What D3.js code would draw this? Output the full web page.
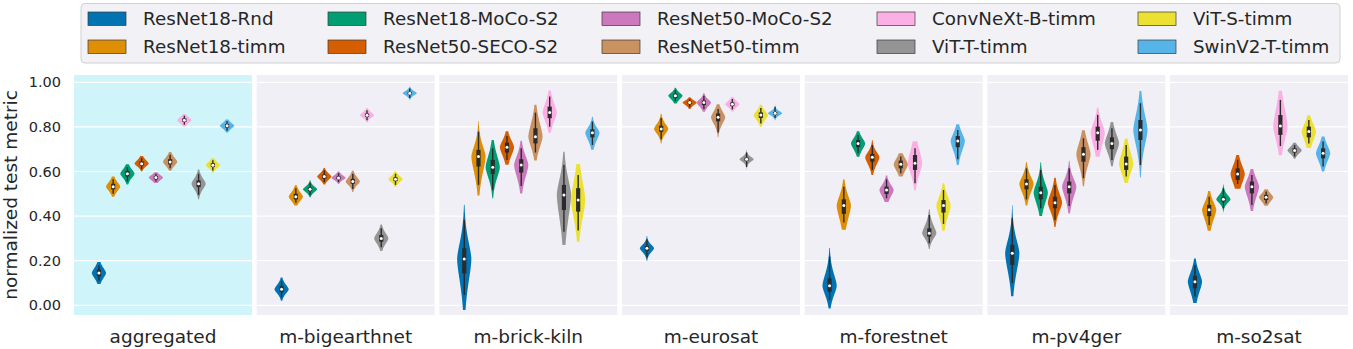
<!DOCTYPE html>
<html><head><meta charset="utf-8">
<script src="https://cdn.jsdelivr.net/npm/d3@7"></script>
<style>body{margin:0;background:#fff;} text{font-family:"DejaVu Sans",sans-serif;fill:#262626;}</style>
</head><body><svg id="c" width="1353" height="349"></svg>
<script>
const datasets = ["aggregated","m-bigearthnet","m-brick-kiln","m-eurosat","m-forestnet","m-pv4ger","m-so2sat"];
const models = ["ResNet18-Rnd","ResNet18-timm","ResNet18-MoCo-S2","ResNet50-SECO-S2","ResNet50-MoCo-S2","ResNet50-timm","ConvNeXt-B-timm","ViT-T-timm","ViT-S-timm","SwinV2-T-timm"];
const colors = ["#0173b2","#de8f05","#029e73","#d55e00","#cc78bc","#ca9161","#fbafe4","#949494","#ece133","#56b4e9"];
const yTicks = [0,0.2,0.4,0.6,0.8,1.0];
// rows: datasets, columns: models
const whiskerLo = [
 [.11,.50,.555,.61,.555,.615,.81,.495,.605,.783],
 [.035,.46,.495,.552,.552,.522,.83,.26,.54,.93],
 [.046,.54,.517,.652,.535,.685,.801,.33,.335,.719],
 [.215,.745,.915,.888,.88,.775,.878,.62,.815,.84],
 [.024,.371,.682,.607,.48,.592,.547,.278,.365,.655],
 [.099,.475,.435,.383,.445,.57,.697,.652,.577,.629],
 [.039,.36,.435,.544,.45,.457,.714,.667,.726,.622]];
const q1Vals = [
 [.13,.52,.578,.627,.565,.632,.822,.53,.62,.797],
 [.06,.475,.512,.568,.565,.545,.845,.285,.557,.945],
 [.143,.622,.589,.685,.595,.726,.839,.427,.42,.753],
 [.245,.778,.93,.902,.898,.825,.893,.648,.84,.855],
 [.061,.41,.709,.644,.499,.614,.607,.308,.416,.709],
 [.181,.52,.475,.435,.502,.644,.738,.70,.607,.741],
 [.076,.40,.465,.562,.502,.472,.764,.685,.753,.659]];
const medianVals = [
 [.145,.532,.59,.635,.573,.643,.83,.545,.628,.805],
 [.072,.487,.52,.577,.571,.555,.852,.30,.565,.951],
 [.208,.667,.619,.709,.629,.756,.864,.495,.472,.774],
 [.256,.791,.94,.909,.909,.843,.901,.655,.853,.861],
 [.088,.447,.726,.664,.517,.632,.637,.323,.447,.737],
 [.233,.544,.505,.46,.532,.677,.774,.726,.634,.786],
 [.106,.428,.475,.589,.532,.484,.804,.694,.779,.682]];
const q3Vals = [
 [.16,.545,.603,.645,.58,.655,.838,.56,.637,.813],
 [.085,.50,.528,.586,.578,.567,.86,.315,.574,.957],
 [.256,.697,.652,.729,.655,.794,.891,.54,.525,.789],
 [.266,.805,.948,.915,.918,.86,.91,.662,.865,.867],
 [.121,.475,.741,.679,.532,.649,.674,.345,.472,.759],
 [.271,.565,.532,.487,.555,.709,.801,.753,.667,.831],
 [.132,.45,.487,.614,.555,.495,.853,.704,.801,.704]];
const whiskerHi = [
 [.18,.565,.62,.66,.59,.675,.85,.59,.65,.825],
 [.11,.525,.55,.605,.592,.59,.875,.345,.59,.972],
 [.383,.779,.704,.759,.704,.864,.936,.629,.584,.824],
 [.295,.84,.965,.925,.94,.88,.925,.685,.885,.89],
 [.218,.532,.764,.719,.565,.667,.704,.405,.517,.786],
 [.39,.614,.607,.54,.614,.749,.854,.794,.719,.906],
 [.181,.487,.525,.652,.584,.51,.921,.719,.831,.734]];

const svg = d3.select("#c");
const plotTop = 75, plotBottom = 315;
const y = d3.scaleLinear().domain([-0.0435, 1.0327]).range([plotBottom, plotTop]);
const xPanel = d3.scaleBand().domain(datasets).range([74, 1348]).paddingInner(0.0256).paddingOuter(0);
const W = xPanel.bandwidth();

datasets.forEach((ds, di) => {
  const left = xPanel(ds);
  const g = svg.append("g");
  g.append("rect").attr("x", left).attr("y", plotTop).attr("width", W).attr("height", plotBottom - plotTop)
    .attr("fill", di === 0 ? "#cff4fa" : "#efeff5");
  g.selectAll("line.grid").data(yTicks).enter().append("line")
    .attr("x1", left).attr("x2", left + W).attr("y1", d => y(d)).attr("y2", d => y(d))
    .attr("stroke", "#fff").attr("stroke-width", 1.2);
  const xm = d3.scaleBand().domain(models).range([left + 0.1 * W, left + 0.9 * W]).padding(0);
  const bw = xm.bandwidth();
  models.forEach((m, mi) => {
    const lo = whiskerLo[di][mi], q1 = q1Vals[di][mi], md = medianVals[di][mi], q3 = q3Vals[di][mi], hi = whiskerHi[di][mi];
    const cx = xm(m) + bw / 2;
    const ext = 0.2 * (hi - lo);
    const vLo = lo - ext, vHi = hi + ext;
    const p = 1.6, k = 0.40;
    const sUp = Math.max(q3 - md, 0.003) / k, sDn = Math.max(md - q1, 0.003) / k;
    const N = 80;
    const pts = d3.range(N + 1).map(i => {
      const v = vLo + (vHi - vLo) * i / N;
      const d = v - md;
      const s = d > 0 ? sUp : sDn;
      const w = Math.exp(-Math.pow(Math.abs(d) / s, p));
      return [v, w];
    });
    const area = d3.area().curve(d3.curveBasis)
      .y(d => y(d[0])).x0(d => cx - d[1] * bw / 2).x1(d => cx + d[1] * bw / 2);
    g.append("path").attr("d", area(pts)).attr("fill", colors[mi]);
    g.append("line").attr("x1", cx).attr("x2", cx).attr("y1", y(lo)).attr("y2", y(hi))
      .attr("stroke", "#2b2b2b").attr("stroke-width", 1.4);
    g.append("line").attr("x1", cx).attr("x2", cx).attr("y1", y(q1)).attr("y2", y(q3))
      .attr("stroke", "#2b2b2b").attr("stroke-width", 4.2);
    g.append("circle").attr("cx", cx).attr("cy", y(md)).attr("r", 1.5).attr("fill", "#fff");
  });
  svg.append("text").attr("x", left + W / 2).attr("y", 343).attr("text-anchor", "middle")
    .attr("font-size", 18.5).text(ds);
});

// y axis ticks
svg.append("g").selectAll("text").data(yTicks).enter().append("text")
  .attr("x", 61).attr("y", d => y(d)).attr("dy", "0.35em").attr("text-anchor", "end")
  .attr("font-size", 14.5).text(d => d3.format(".2f")(d));
svg.append("text").attr("transform", "translate(16.5,195) rotate(-90)").attr("text-anchor", "middle")
  .attr("font-size", 18.5).text("normalized test metric");

// legend
const lg = svg.append("g");
lg.append("rect").attr("x", 81).attr("y", 3.5).attr("width", 1259).attr("height", 59.5).attr("rx", 4)
  .attr("fill", "#f2f2f6").attr("stroke", "#d0d0d0").attr("stroke-width", 1);
const colX = [88, 328, 602, 877, 1138];
const rowY = [18.5, 46.5];
models.forEach((m, i) => {
  const c = Math.floor(i / 2), r = i % 2;
  lg.append("rect").attr("x", colX[c]).attr("y", rowY[r] - 6.5).attr("width", 38).attr("height", 13.5)
    .attr("fill", colors[i]).attr("stroke", "#3a3a3a").attr("stroke-width", 0.7);
  lg.append("text").attr("x", colX[c] + 55).attr("y", rowY[r]).attr("dy", "0.35em")
    .attr("font-size", 18.3).text(m);
});
</script></body></html>
